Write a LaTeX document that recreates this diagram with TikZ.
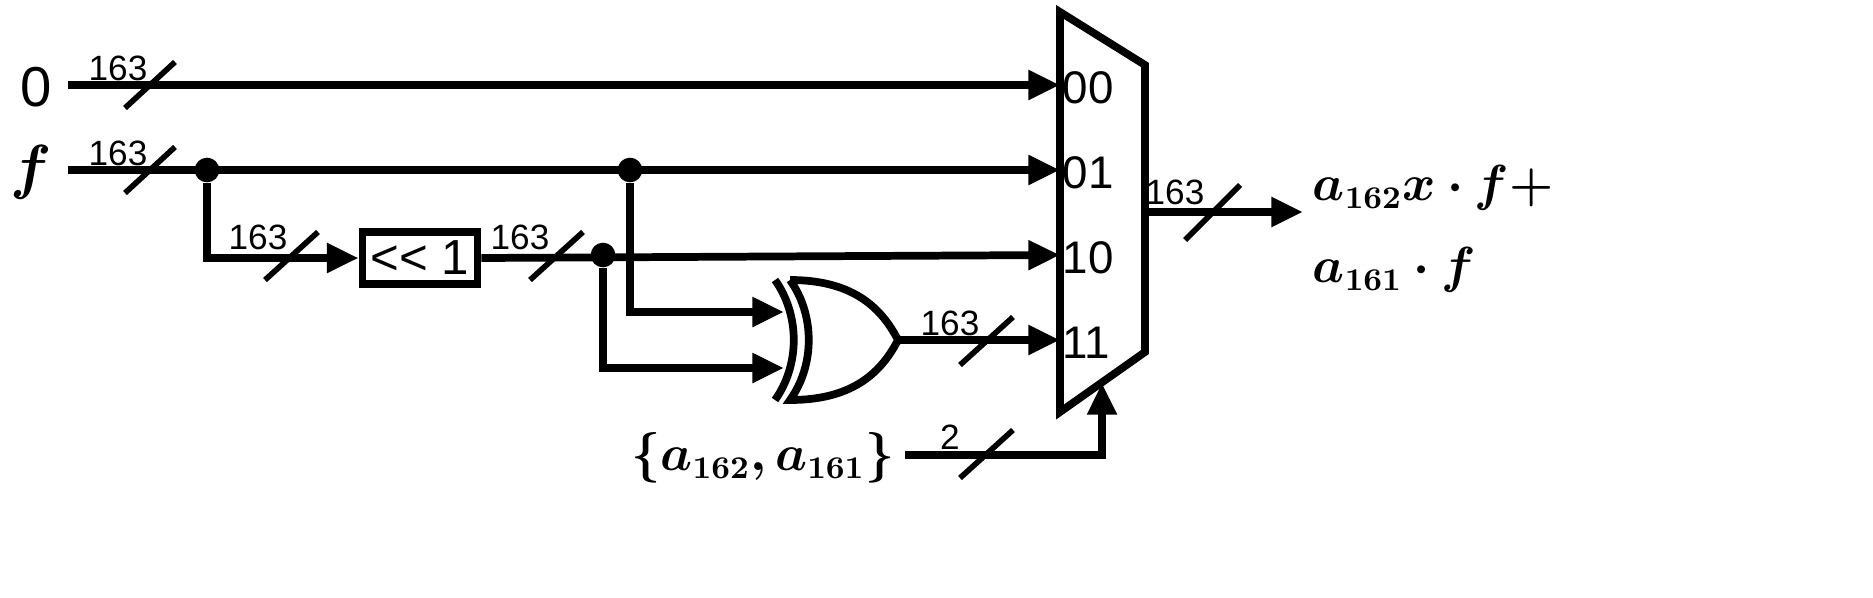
\documentclass[tikz,border=0pt]{standalone}
\usepackage{fontspec}
\setmainfont{Liberation Sans}
\usepackage{amsmath,bm}
\usetikzlibrary{arrows.meta}
\begin{document}
\begin{tikzpicture}[x=0.01cm,y=-0.01cm,
  wire/.style={line width=2.2pt},
  arr/.style={wire,-{Triangle[length=9pt,width=8pt]}},
  bus/.style={line width=1.6pt},
  num/.style={font=\fontsize{10}{12}\selectfont,inner sep=0pt},
  port/.style={font=\fontsize{13}{15}\selectfont,inner sep=0pt,anchor=west},
  mth/.style={font=\fontsize{13.5}{16}\selectfont,inner sep=0pt},
  dot/.style={circle,fill,inner sep=0pt,minimum size=7pt}]
\useasboundingbox (0,0) rectangle (1873,597);
% mux
\draw[line width=2.2pt] (1060,12) -- (1145,65) -- (1145,352) -- (1060,412) -- cycle;
\coordinate (m00) at (1060,85);
\coordinate (m01) at (1060,170);
\coordinate (m10) at (1060,255);
\coordinate (m11) at (1060,340);
\coordinate (msel) at (1102,383);
\node[port] at (1062,88) {00};
\node[port] at (1062,173) {01};
\node[port] at (1062,258) {10};
\node[port] at (1062,343) {11};
% inputs
\node[font=\fontsize{16}{18}\selectfont,anchor=east,inner sep=0pt] (zero) at (52,87) {0};
\node[font=\fontsize{16}{18}\selectfont,anchor=east,inner sep=0pt] (f) at (52,172) {$\bm{f}$};
\draw[arr] (68,85) -- (m00);
\draw[bus] (125,108) -- (175,62); \node[num] at (118,68) {163};
\draw[arr] (68,170) -- (m01);
\draw[bus] (125,193) -- (175,147); \node[num] at (118,153) {163};
\node[dot] (d1) at (207,170) {};
\node[dot] (d2) at (630,170) {};
% shifter
\node[draw,line width=2.2pt,inner sep=0pt,minimum width=1.15cm,minimum height=0.52cm,font=\fontsize{14}{16}\selectfont] (sh) at (420,258) {{<}{<} 1};
\draw[arr] (d1) |- (sh.west);
\draw[bus] (265,280) -- (318,232); \node[num] at (258,237) {163};
\draw[arr] (sh.east) -- (m10);
\draw[bus] (530,280) -- (583,232); \node[num] at (520,237) {163};
\node[dot] (d3) at (603,255) {};
% xor gate
\coordinate (xa) at (784,312);
\coordinate (xb) at (784,368);
\draw[line width=2.2pt] (790,280) .. controls (815,315) and (815,365) .. (790,400)
  .. controls (850,400) and (880,375) .. (898,340)
  .. controls (880,305) and (850,280) .. (790,280);
\draw[line width=2.2pt] (775,280) .. controls (800,315) and (800,365) .. (775,400);
\draw[arr] (d2) |- (xa);
\draw[arr] (d3) |- (xb);
\coordinate (xo) at (898,340);
\draw[arr] (xo) -- (m11);
\draw[bus] (960,365) -- (1013,317); \node[num] at (950,323) {163};
% select
\node[mth,anchor=east] (sel) at (895,458) {$\bm{\{a_{162},a_{161}\}}$};
\draw[arr] (905,455) -- (1102,455) -- (msel);
\draw[bus] (960,478) -- (1013,430); \node[num] at (950,437) {2};
% output
\coordinate (out) at (1303,212);
\draw[arr] (1145,212) -- (out);
\draw[bus] (1185,240) -- (1240,185); \node[num] at (1175,192) {163};
\node[mth,anchor=west] at (1312,188) {$\bm{a_{162}x\cdot f+}$};
\node[mth,anchor=west] at (1312,270) {$\bm{a_{161}\cdot f}$};
\end{tikzpicture}
\end{document}
